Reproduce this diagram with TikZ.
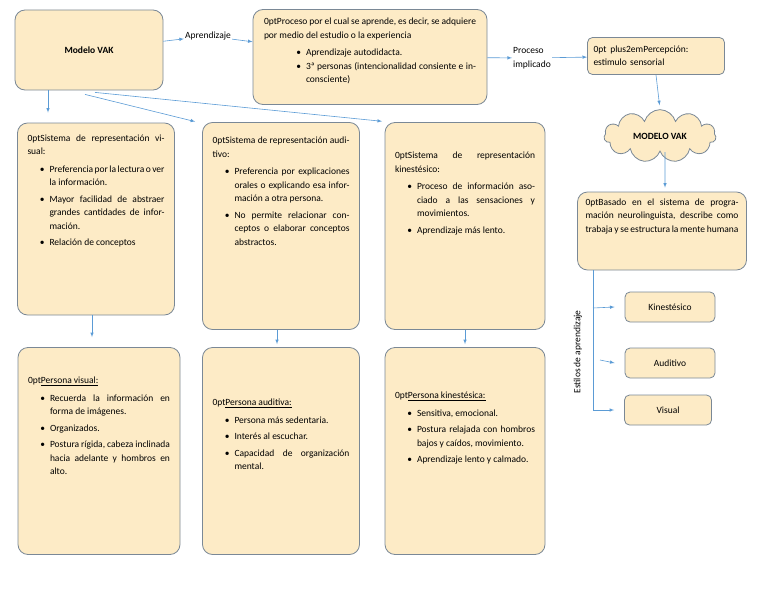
\documentclass[tikz,border=0pt]{standalone}
\usepackage{fontspec}
\setmainfont{Carlito}
\usepackage{enumitem}
\usetikzlibrary{shapes.symbols}
\definecolor{boxc}{HTML}{FDEBC6}
\definecolor{bordc}{HTML}{7A8896}
\definecolor{arrc}{HTML}{5B9BD5}
\setlist[itemize]{leftmargin=22pt,itemsep=3pt,topsep=4pt,parsep=0pt,label=\textbullet}
\tikzset{
	box/.style={draw=bordc,fill=boxc,rounded corners=10pt,thick},
	txt/.style={anchor=north,align=justify,inner sep=0pt,font=\fontsize{9.5}{13.5}\selectfont\hyphenpenalty=10000\exhyphenpenalty=10000},
	lbl/.style={font=\fontsize{9.5}{13.5}\selectfont,align=left,inner sep=1pt},
	arr/.style={->,draw=arrc,semithick,>=latex}
}
\begin{document}
\begin{tikzpicture}[x=1pt,y=-1pt]
	\useasboundingbox (0,0) rectangle (768,594);
	% fila superior
	\node[box,minimum width=148,minimum height=80,font=\fontsize{9.5}{13}\bfseries] (vak) at (89,50) {Modelo VAK};
	\node[lbl] (apr) at (208,36) {Aprendizaje};
	\node[box,minimum width=234,minimum height=95] (proc) at (370,57) {};
	\node[txt,text width=212] (proct) at ([yshift=-9]proc.north) {Proceso por el cual se aprende, es decir, se adquiere por medio del estudio o la experiencia
		\begin{itemize}[leftmargin=42pt,itemsep=0pt]
			\item Aprendizaje autodidacta.
			\item 3ª personas (intencionalidad consiente e inconsciente)
		\end{itemize}};
	\node[lbl] (impl) at (532,58) {Proceso\\implicado};
	\node[box,rounded corners=5pt,minimum width=137,minimum height=37,text width=125,align=center,inner sep=4pt,font=\fontsize{9.5}{13}\selectfont\hyphenpenalty=10000] (perc) at (656,56) {Percepción: estimulo sensorial};
	\node[cloud,cloud puffs=11,aspect=2.4,draw=bordc,fill=boxc,thick,minimum width=112,minimum height=46,font=\fontsize{9.5}{11}\bfseries] (nube) at (660,136) {MODELO VAK};
	\node[box,minimum width=169,minimum height=78] (bas) at (662,231) {};
	\node[txt,text width=153] (bast) at ([yshift=-7]bas.north) {Basado en el sistema de programación neurolinguista, describe como trabaja y se estructura la mente humana};
	% estilos
	\node[box,rounded corners=5pt,minimum width=90,minimum height=30,font=\fontsize{9.5}{11}\selectfont] (kin) at (670,307) {Kinestésico};
	\node[box,rounded corners=5pt,minimum width=90,minimum height=30,font=\fontsize{9.5}{11}\selectfont] (aud) at (670,363) {Auditivo};
	\node[box,rounded corners=5pt,minimum width=87,minimum height=30,font=\fontsize{9.5}{11}\selectfont] (vis) at (668,410) {Visual};
	\node[lbl,rotate=90] (est) at (578,352) {Estilos de aprendizaje};
	\coordinate (t0) at (593,270);
	\coordinate (t1) at (593,308);
	\coordinate (t2) at (600,360);
	\coordinate (t3) at (593,410);
	% sistemas
	\node[box,minimum width=157,minimum height=192] (sv) at (96,219) {};
	\node[txt,text width=137] (svt) at ([yshift=-12]sv.north) {Sistema de representación visual:
		\begin{itemize}
			\item Preferencia por la lectura o ver la información.
			\item Mayor facilidad de abstraer grandes cantidades de información.
			\item Relación de conceptos
		\end{itemize}};
	\node[box,minimum width=157,minimum height=207] (sa) at (281,226) {};
	\node[txt,text width=137] (sat) at ([yshift=-15]sa.north) {Sistema de representación auditivo:
		\begin{itemize}
			\item Preferencia por explicaciones orales o explicando esa información a otra persona.
			\item No permite relacionar conceptos o elaborar conceptos abstractos.
		\end{itemize}};
	\node[box,minimum width=160,minimum height=207] (sk) at (465,226) {};
	\node[txt,text width=140] (skt) at ([yshift=-30]sk.north) {Sistema de representación kinestésico:
		\begin{itemize}
			\item Proceso de información asociado a las sensaciones y movimientos.
			\item Aprendizaje más lento.
		\end{itemize}};
	% personas
	\node[box,minimum width=162,minimum height=207] (pv) at (99,451) {};
	\node[txt,text width=142] (pvt) at ([yshift=-30]pv.north) {\underline{Persona visual:}
		\begin{itemize}
			\item Recuerda la información en forma de imágenes.
			\item Organizados.
			\item Postura rígida, cabeza inclinada hacia adelante y hombros en alto.
		\end{itemize}};
	\node[box,minimum width=157,minimum height=207] (pa) at (281,451) {};
	\node[txt,text width=137] (pat) at ([yshift=-52]pa.north) {\underline{Persona auditiva:}
		\begin{itemize}
			\item Persona más sedentaria.
			\item Interés al escuchar.
			\item Capacidad de organización mental.
		\end{itemize}};
	\node[box,minimum width=160,minimum height=207] (pk) at (465,451) {};
	\node[txt,text width=140] (pkt) at ([yshift=-45]pk.north) {\underline{Persona kinestésica:}
		\begin{itemize}
			\item Sensitiva, emocional.
			\item Postura relajada con hombros bajos y caídos, movimiento.
			\item Aprendizaje lento y calmado.
		\end{itemize}};
	% flechas
	\draw[arr] (vak) -- (apr);
	\draw[arr] (apr) -- (proc);
	\draw[arr] (proc) -- (impl);
	\draw[arr] (impl) -- (perc);
	\draw[arr,shorten >=4pt] (perc.south) -- (nube.north);
	\draw[arr,shorten >=4pt] ([xshift=5]nube.south) -- ([xshift=3]bas.north);
	\draw[arr,shorten >=10pt] ([xshift=-41]vak.south) -- ([xshift=-48]sv.north);
	\draw[arr,shorten >=2pt] ([xshift=-4,yshift=-4]vak.south) -- ([xshift=-5]sa.north west);
	\draw[arr,shorten >=8pt] ([xshift=6,yshift=-2]vak.south) -- ([xshift=-75]sk.north);
	\draw[arr,shorten >=10pt] ([xshift=-4]sv.south) -- ([xshift=-4]sv.south |- pv.north);
	\draw[arr,shorten >=3pt] ([xshift=-4]sa.south) -- ([xshift=-4]pa.north);
	\draw[arr,shorten >=3pt] (sk.south) -- (pk.north);
	\draw[draw=arrc,semithick] (t0) -- (t3);
	\draw[arr] (t1) -- ([xshift=-10]kin.west);
	\draw[arr] (t2) -- ([xshift=-10]aud.west);
	\draw[arr] (t3) -- ([xshift=-10]vis.west);
\end{tikzpicture}
\end{document}
